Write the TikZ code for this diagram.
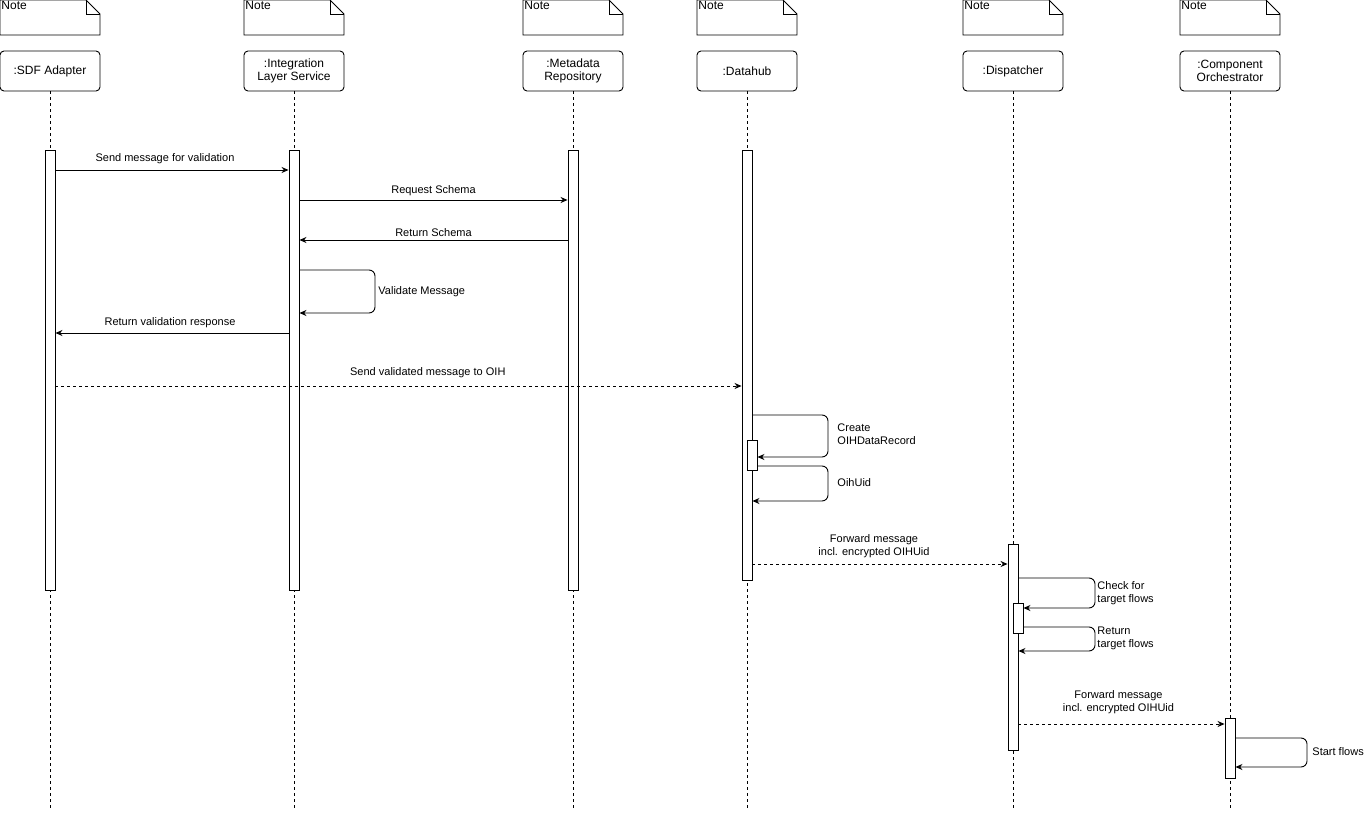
\documentclass[tikz,border=0pt]{standalone}
\usepackage{fontspec}
\setmainfont{Liberation Sans}
\usetikzlibrary{arrows.meta}
\begin{document}
\begin{tikzpicture}[x=1pt,y=-1pt,line width=0.9pt,font=\fontsize{11}{13}\selectfont,
  head/.style={draw,rounded corners=4pt,minimum width=100pt,minimum height=40pt,align=center,inner sep=1pt,font=\fontsize{12}{13}\selectfont},
  act/.style={draw,fill=white,minimum width=10pt,inner sep=0pt},
  life/.style={dash pattern=on 3pt off 3pt},
  msg/.style={-{Stealth[length=7pt,width=6pt]}},
  dmsg/.style={msg,dash pattern=on 3pt off 3pt},
  lbl/.style={align=center,inner sep=0pt},
  llbl/.style={align=left,anchor=west,inner sep=0pt}]
\useasboundingbox (0,0) rectangle (1371,813);
\foreach \x/\n in {50/a,294/b,573/c,747/d,1013/e,1230/f}{
  \draw (\x-50,0) -- (\x+36,0) -- (\x+50,14) -- (\x+50,35) -- (\x-50,35) -- cycle;
  \draw (\x+36,0) -- (\x+36,14) -- (\x+50,14);
  \node[anchor=north west,inner sep=1pt,font=\fontsize{12}{13}\selectfont] (note\n) at (\x-50,0) {Note};
  \coordinate (end\n) at (\x,808);
}
\node[head] (ha) at (50,71) {:SDF Adapter};
\node[head] (hb) at (294,71) {:Integration\\Layer Service};
\node[head] (hc) at (573,71) {:Metadata\\Repository};
\node[head] (hd) at (747,71) {:Datahub};
\node[head] (he) at (1013,71) {:Dispatcher};
\node[head] (hf) at (1230,71) {:Component\\Orchestrator};
\foreach \n in {a,b,c,d,e,f}{\draw[life] (h\n.south) -- (end\n);}
\node[act,minimum height=440pt,anchor=north] (aa) at (50,150) {};
\node[act,minimum height=440pt,anchor=north] (ab) at (294,150) {};
\node[act,minimum height=440pt,anchor=north] (ac) at (573,150) {};
\node[act,minimum height=430pt,anchor=north] (ad) at (747,150) {};
\node[act,minimum height=30pt,anchor=north] (ad2) at (752,440) {};
\node[act,minimum height=206pt,anchor=north] (ae) at (1013,544) {};
\node[act,minimum height=30pt,anchor=north] (ae2) at (1018,603) {};
\node[act,minimum height=60pt,anchor=north] (af) at (1230,718) {};

\draw[msg] (aa.east|-0,170) -- node[lbl,above=6pt,xshift=-7pt] {Send message for validation} (ab.west|-0,170);
\draw[msg] (ab.east|-0,200) -- node[lbl,above=4pt] {Request Schema} (ac.west|-0,200);
\draw[msg] (ac.west|-0,240) -- node[lbl,above=3pt] {Return Schema} (ab.east|-0,240);
\draw[msg,rounded corners=6pt] (ab.east|-0,270) -- (375,270) -- (375,313) -- (ab.east|-0,313);
\node[llbl] (t1) at (378,292) {Validate Message};
\draw[msg] (ab.west|-0,333) -- node[lbl,above=5pt,xshift=-2pt] {Return validation response} (aa.east|-0,333);
\draw[dmsg] (aa.east|-0,386) -- node[lbl,above=8pt,pos=0.55,xshift=-5pt] {Send validated message to OIH} (ad.west|-0,386);
\draw[msg,rounded corners=6pt] (ad.east|-0,415) -- (828,415) -- (828,457) -- (ad2.east|-0,457);
\node[llbl] (t2) at (837,434) {Create\\OIHDataRecord};
\draw[msg,rounded corners=6pt] (ad2.east|-0,466) -- (828,466) -- (828,501) -- (ad.east|-0,501);
\node[llbl] (t3) at (837,483) {OihUid};
\draw[dmsg] (ad.east|-0,564) -- node[lbl,above=6pt,xshift=-6pt] {Forward message\\incl. encrypted OIHUid} (ae.west|-0,564);
\draw[msg,rounded corners=6pt] (ae.east|-0,578) -- (1095,578) -- (1095,608) -- (ae2.east|-0,608);
\node[llbl] (t4) at (1097,593) {Check for\\target flows};
\draw[msg,rounded corners=6pt] (ae2.east|-0,627) -- (1095,627) -- (1095,651) -- (ae.east|-0,651);
\node[llbl] (t5) at (1097,638) {Return\\target flows};
\draw[dmsg] (ae.east|-0,724) -- node[lbl,above=10pt,xshift=-3pt] {Forward message\\incl. encrypted OIHUid} (af.west|-0,724);
\draw[msg,rounded corners=6pt] (af.east|-0,738) -- (1307,738) -- (1307,767) -- (af.east|-0,767);
\node[llbl] (t6) at (1312,752) {Start flows};
\end{tikzpicture}
\end{document}
